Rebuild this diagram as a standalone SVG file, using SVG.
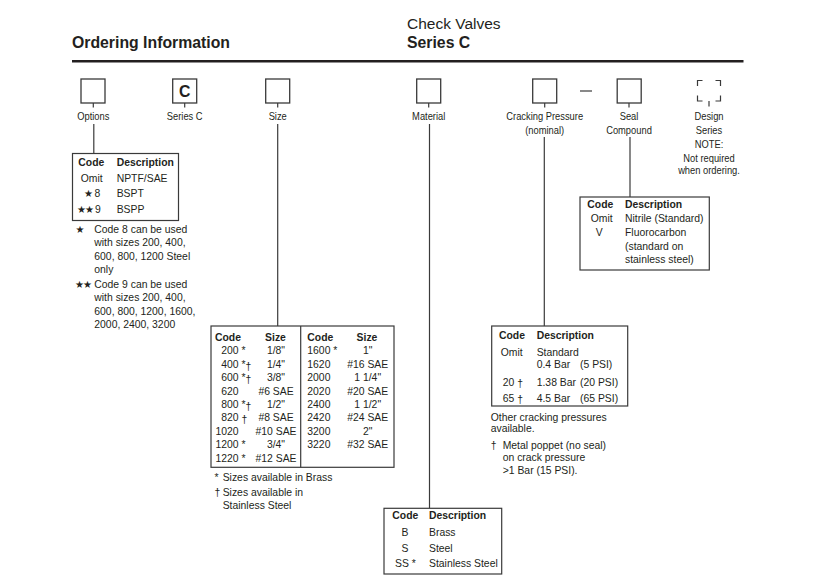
<svg xmlns="http://www.w3.org/2000/svg" width="816" height="576" viewBox="0 0 816 576">
<style>
text{font-family:"Liberation Sans",Arial,sans-serif;fill:#231f20;}
.h{font-size:15.8px;font-weight:bold;}
.h2{font-size:15.5px;}
.lbl{font-size:11px;text-anchor:middle;}
.t{font-size:10.4px;}
.b{font-weight:bold;}
.m{text-anchor:middle;}
.e{text-anchor:end;}
.star{font-family:"DejaVu Sans",sans-serif;font-size:10px;letter-spacing:-1px;}
.box{fill:#fff;stroke:#3a3a3a;stroke-width:1.3;}
.tbl{fill:#fff;stroke:#3a3a3a;stroke-width:1.2;}
.ln{stroke:#3a3a3a;stroke-width:1.2;fill:none;}
</style>
<rect width="816" height="576" fill="#fff"/>
<g id="header">
<text class="h" x="72" y="48">Ordering Information</text>
<text class="h2" x="407" y="29">Check Valves</text>
<text class="h" x="407" y="48">Series C</text>
<line x1="72" y1="61.3" x2="743.5" y2="61.3" stroke="#231f20" stroke-width="2.6"/>
</g>
<g id="connectors">
<line class="ln" x1="93.3" y1="103" x2="93.3" y2="107.5"/>
<line class="ln" x1="93.8" y1="124" x2="93.8" y2="153.5"/>
<line class="ln" x1="184.7" y1="103" x2="184.7" y2="107.5"/>
<line class="ln" x1="277.7" y1="103" x2="277.7" y2="107.5"/>
<line class="ln" x1="277.7" y1="124" x2="277.7" y2="326"/>
<line class="ln" x1="428.7" y1="103" x2="428.7" y2="107.5"/>
<line class="ln" x1="429.5" y1="124" x2="429.5" y2="508.3"/>
<line class="ln" x1="544.7" y1="103" x2="544.7" y2="107.5"/>
<line class="ln" x1="544.3" y1="137" x2="544.3" y2="326"/>
<line class="ln" x1="629" y1="103" x2="629" y2="107.5"/>
<line class="ln" x1="630" y1="137" x2="630" y2="197"/>
<line class="ln" x1="709" y1="101" x2="709" y2="106.5"/>
<line class="ln" x1="580" y1="91" x2="592" y2="91"/>
</g>
<g id="options">
<rect class="box" x="81" y="79" width="24" height="24"/>
<text class="lbl" transform="translate(93.3,120) scale(0.85,1)">Options</text>
<rect class="tbl" x="72.5" y="153.5" width="106" height="67"/>
<text class="t b" x="78.3" y="166">Code</text>
<text class="t b" x="116.7" y="166">Description</text>
<text class="t" x="80.7" y="181.7">Omit</text>
<text class="t" x="116.7" y="181.7">NPTF/SAE</text>
<text class="star" x="84" y="196.7">★</text>
<text class="t" x="94.5" y="196.7">8</text>
<text class="t" x="116.7" y="196.7">BSPT</text>
<text class="star" x="77" y="212.7">★★</text>
<text class="t" x="95" y="212.7">9</text>
<text class="t" x="116.7" y="212.7">BSPP</text>
<text class="star" x="75.5" y="233">★</text>
<text class="t" x="94.3" y="233">Code 8 can be used</text>
<text class="t" x="94.3" y="246.3">with sizes 200, 400,</text>
<text class="t" x="94.3" y="259.6">600, 800, 1200 Steel</text>
<text class="t" x="94.3" y="273">only</text>
<text class="star" x="75" y="288">★★</text>
<text class="t" x="94.3" y="288">Code 9 can be used</text>
<text class="t" x="94.3" y="301.3">with sizes 200, 400,</text>
<text class="t" x="94.3" y="314.6">600, 800, 1200, 1600,</text>
<text class="t" x="94.3" y="328">2000, 2400, 3200</text>
</g>
<g id="series">
<rect class="box" x="172.7" y="79" width="24" height="24"/>
<text class="h m" x="184.7" y="97.3">C</text>
<text class="lbl" transform="translate(184.7,120) scale(0.85,1)">Series C</text>
</g>
<g id="size">
<rect class="box" x="265.7" y="79" width="24" height="24"/>
<text class="lbl" transform="translate(277.7,120) scale(0.85,1)">Size</text>
<rect class="tbl" x="211" y="326" width="183" height="141.3"/>
<line class="ln" x1="300.7" y1="326" x2="300.7" y2="467.3"/>
<text class="t b" x="215" y="340.5">Code</text>
<text class="t b m" x="275.5" y="340.5">Size</text>
<text class="t b" x="307.3" y="340.5">Code</text>
<text class="t b m" x="367" y="340.5">Size</text>
<text class="t e" x="238.5" y="354.3">200</text><text class="t" x="241.5" y="354.3">*</text>
<text class="t e" x="238.5" y="367.7">400</text><text class="t" x="241.5" y="367.7">*<tspan dy="2">†</tspan></text>
<text class="t e" x="238.5" y="381.1">600</text><text class="t" x="241.5" y="381.1">*<tspan dy="2">†</tspan></text>
<text class="t e" x="238.5" y="394.5">620</text>
<text class="t e" x="238.5" y="407.9">800</text><text class="t" x="241.5" y="407.9">*<tspan dy="2">†</tspan></text>
<text class="t e" x="238.5" y="421.3">820</text><text class="t" x="241.5" y="423.3">†</text>
<text class="t e" x="238.5" y="434.7">1020</text>
<text class="t e" x="238.5" y="448.1">1200</text><text class="t" x="241.5" y="448.1">*</text>
<text class="t e" x="238.5" y="461.5">1220</text><text class="t" x="241.5" y="461.5">*</text>
<text class="t m" x="276" y="354.3">1/8"</text>
<text class="t m" x="276" y="367.7">1/4"</text>
<text class="t m" x="276" y="381.1">3/8"</text>
<text class="t m" x="276" y="394.5">#6 SAE</text>
<text class="t m" x="276" y="407.9">1/2"</text>
<text class="t m" x="276" y="421.3">#8 SAE</text>
<text class="t m" x="276" y="434.7">#10 SAE</text>
<text class="t m" x="276" y="448.1">3/4"</text>
<text class="t m" x="276" y="461.5">#12 SAE</text>
<text class="t" x="307.3" y="354.3">1600 *</text>
<text class="t" x="307.3" y="367.7">1620</text>
<text class="t" x="307.3" y="381.1">2000</text>
<text class="t" x="307.3" y="394.5">2020</text>
<text class="t" x="307.3" y="407.9">2400</text>
<text class="t" x="307.3" y="421.3">2420</text>
<text class="t" x="307.3" y="434.7">3200</text>
<text class="t" x="307.3" y="448.1">3220</text>
<text class="t m" x="367.7" y="354.3">1"</text>
<text class="t m" x="367.7" y="367.7">#16 SAE</text>
<text class="t m" x="367.7" y="381.1">1 1/4"</text>
<text class="t m" x="367.7" y="394.5">#20 SAE</text>
<text class="t m" x="367.7" y="407.9">1 1/2"</text>
<text class="t m" x="367.7" y="421.3">#24 SAE</text>
<text class="t m" x="367.7" y="434.7">2"</text>
<text class="t m" x="367.7" y="448.1">#32 SAE</text>
<text class="t" x="214.5" y="480.5">*</text>
<text class="t" x="222.7" y="480.5">Sizes available in Brass</text>
<text class="t" x="214.5" y="495.5">†</text>
<text class="t" x="222.7" y="495.5">Sizes available in</text>
<text class="t" x="222.7" y="509">Stainless Steel</text>
</g>
<g id="material">
<rect class="box" x="416.7" y="79" width="24" height="24"/>
<text class="lbl" transform="translate(428.7,120) scale(0.85,1)">Material</text>
<rect class="tbl" x="384" y="508.3" width="117.7" height="65.7"/>
<text class="t b" x="392.3" y="518.5">Code</text>
<text class="t b" x="429" y="518.5">Description</text>
<text class="t m" x="405" y="535.5">B</text>
<text class="t" x="429" y="535.5">Brass</text>
<text class="t m" x="405" y="551.5">S</text>
<text class="t" x="429" y="551.5">Steel</text>
<text class="t" x="395" y="567">SS *</text>
<text class="t" x="429" y="567">Stainless Steel</text>
</g>
<g id="cracking">
<rect class="box" x="532.7" y="79" width="24" height="24"/>
<text class="lbl" transform="translate(544.7,120) scale(0.85,1)">Cracking Pressure</text>
<text class="lbl" transform="translate(544.7,133.5) scale(0.85,1)">(nominal)</text>
<rect class="tbl" x="491.7" y="326" width="136" height="80"/>
<text class="t b" x="499" y="338.8">Code</text>
<text class="t b" x="536.7" y="338.8">Description</text>
<text class="t" x="500.7" y="355.5">Omit</text>
<text class="t" x="536.7" y="355.5">Standard</text>
<text class="t" x="536.7" y="368">0.4 Bar</text>
<text class="t" x="580" y="368">(5 PSI)</text>
<text class="t" x="502.7" y="385.5">20 <tspan dy="1.5">†</tspan></text>
<text class="t" x="536.7" y="385.5">1.38 Bar</text>
<text class="t" x="580" y="385.5">(20 PSI)</text>
<text class="t" x="502.7" y="401.5">65 <tspan dy="1.5">†</tspan></text>
<text class="t" x="536.7" y="401.5">4.5 Bar</text>
<text class="t" x="580" y="401.5">(65 PSI)</text>
<text class="t" x="490.7" y="420.5">Other cracking pressures</text>
<text class="t" x="490.7" y="432">available.</text>
<text class="t" x="490.7" y="448.7">†</text>
<text class="t" x="502.7" y="448.7">Metal poppet (no seal)</text>
<text class="t" x="502.7" y="461">on crack pressure</text>
<text class="t" x="502.7" y="473.7">&gt;1 Bar (15 PSI).</text>
</g>
<g id="seal">
<rect class="box" x="617.2" y="79" width="24" height="24"/>
<text class="lbl" transform="translate(629,120) scale(0.85,1)">Seal</text>
<text class="lbl" transform="translate(629,133.5) scale(0.85,1)">Compound</text>
<rect class="tbl" x="580" y="197" width="129.3" height="73"/>
<text class="t b" x="587.3" y="208">Code</text>
<text class="t b" x="625" y="208">Description</text>
<text class="t" x="590.7" y="222">Omit</text>
<text class="t" x="625" y="222">Nitrile (Standard)</text>
<text class="t m" x="599.3" y="236">V</text>
<text class="t" x="625" y="236">Fluorocarbon</text>
<text class="t" x="625" y="249.5">(standard on</text>
<text class="t" x="625" y="263">stainless steel)</text>
</g>
<g id="design">
<path class="ln" d="M697.5,86 V80.5 H702.5 M715.5,80.5 H720.5 V86 M697.5,95.5 V101 H702.5 M715.5,101 H720.5 V95.5" stroke-width="1.4"/>
<text class="lbl" transform="translate(709,120) scale(0.85,1)">Design</text>
<text class="lbl" transform="translate(709,133.5) scale(0.85,1)">Series</text>
<text class="lbl" transform="translate(709,148) scale(0.85,1)">NOTE:</text>
<text class="lbl" transform="translate(709,161.5) scale(0.85,1)">Not required</text>
<text class="lbl" transform="translate(709,173.5) scale(0.85,1)">when ordering.</text>
</g>
</svg>
